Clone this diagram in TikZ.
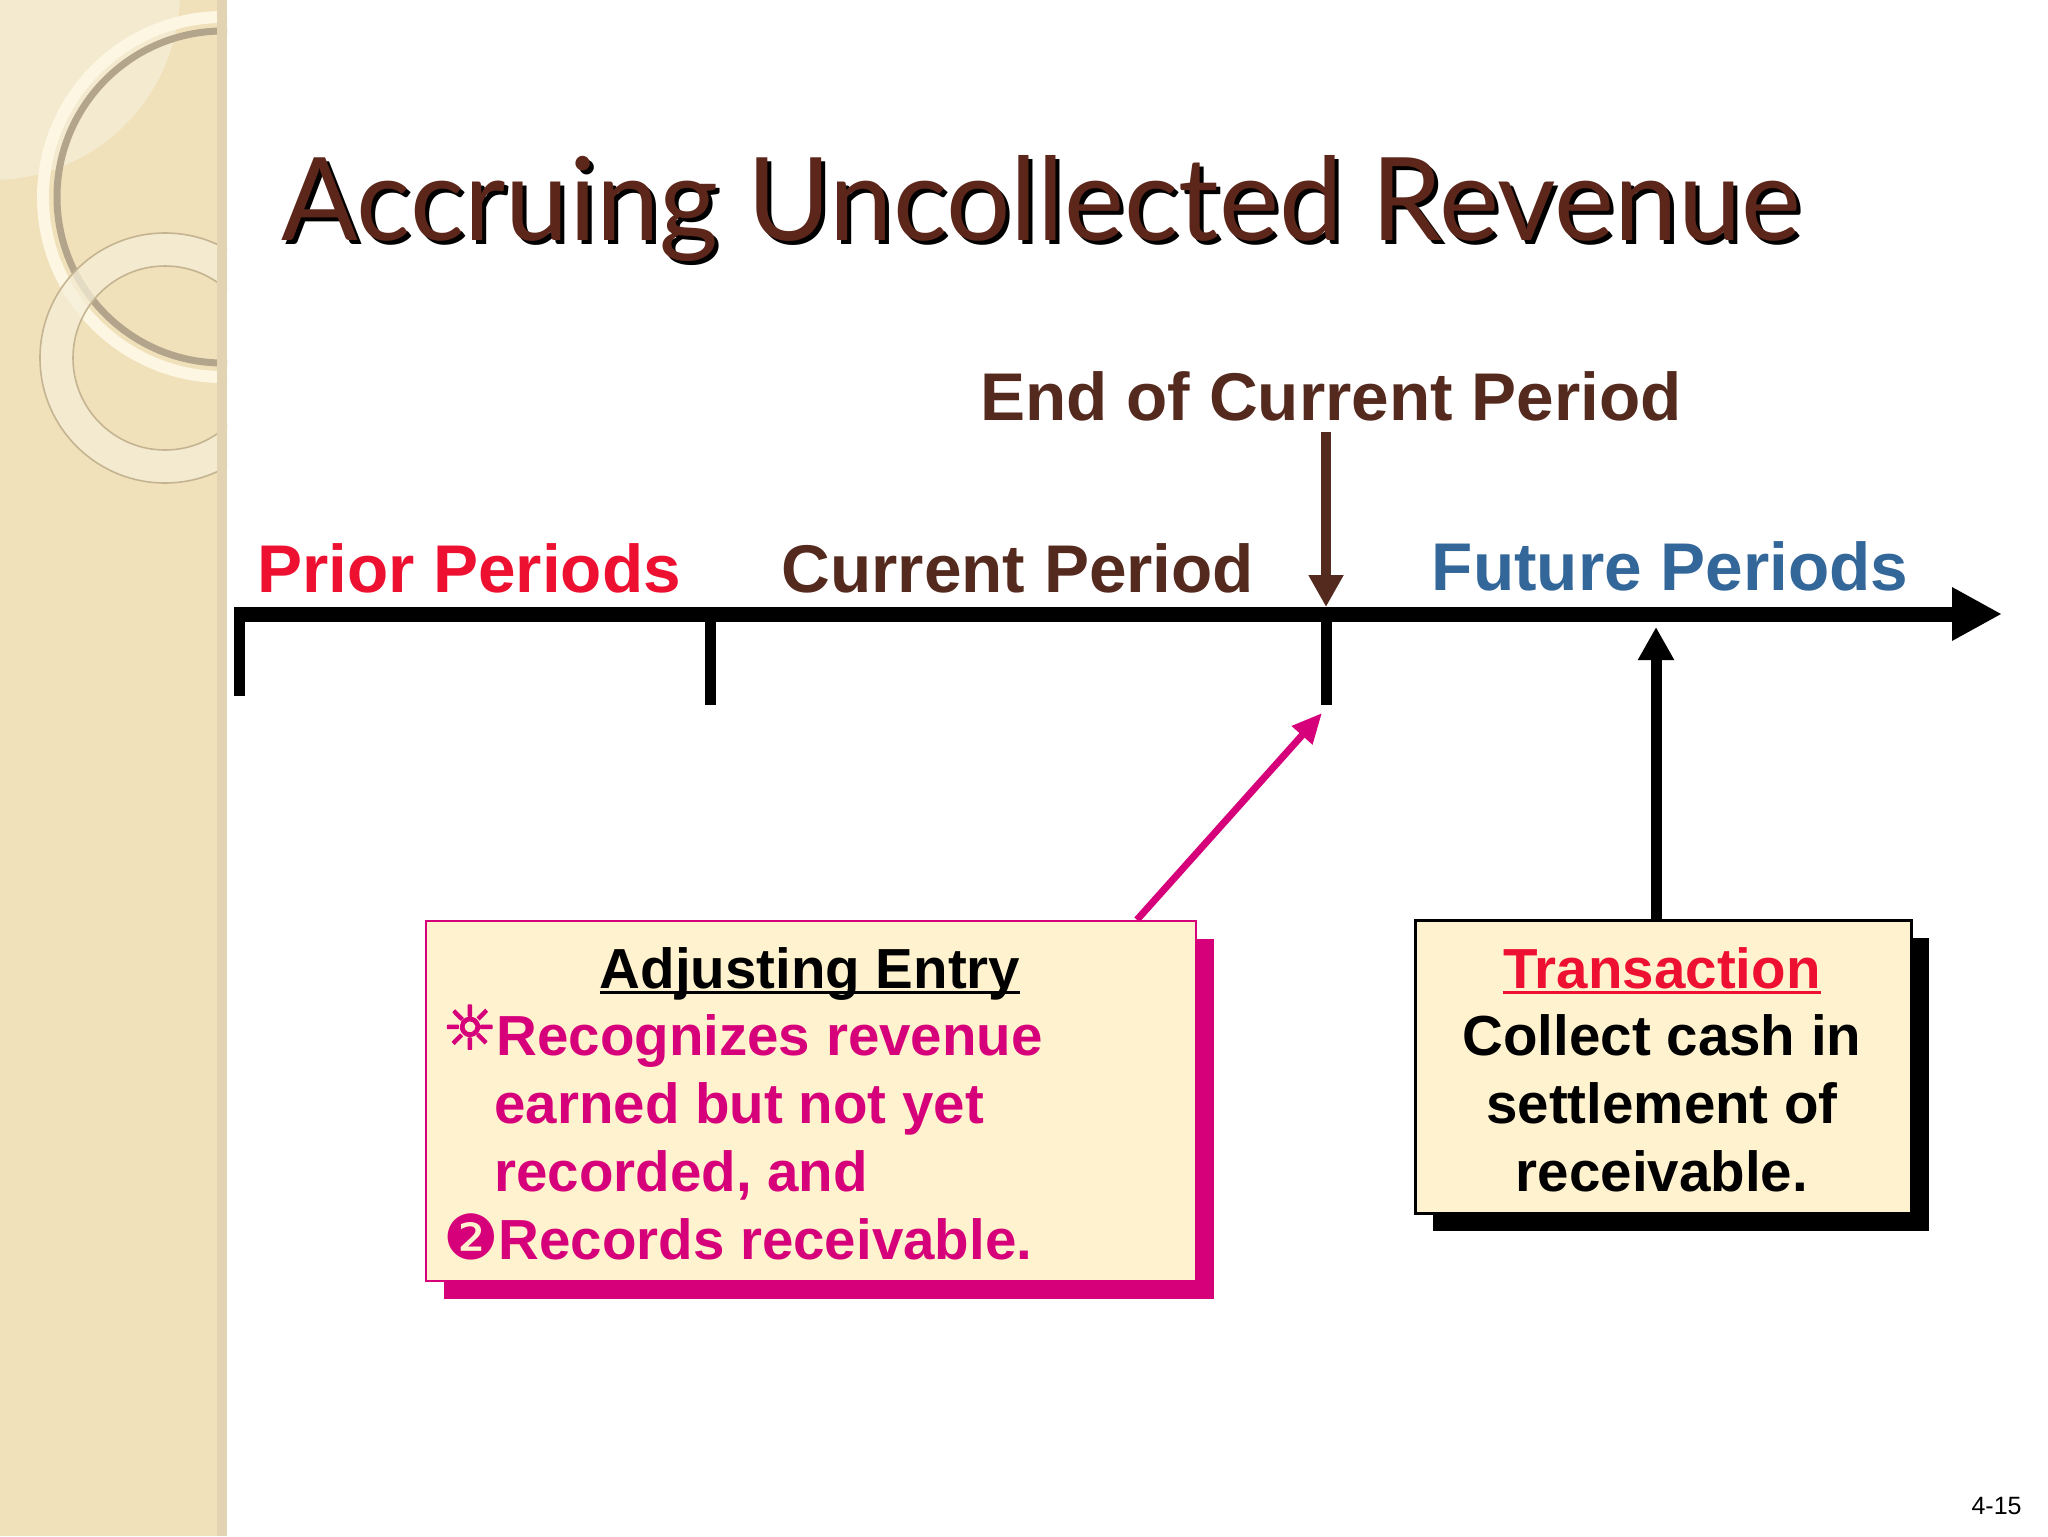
\documentclass[tikz,border=0pt]{standalone}
\usepackage{fontspec}
\setmainfont{Liberation Sans}
\newfontfamily\titlefont{Lato}
\newfontfamily\symfont{DejaVu Sans}
\newfontfamily\symboldfont[FakeBold=3]{DejaVu Sans}
\usetikzlibrary{arrows.meta,shadows,calc}
\definecolor{panel}{RGB}{240,225,186}
\definecolor{panellight}{RGB}{244,234,208}
\definecolor{panelstrip}{RGB}{226,212,178}
\definecolor{ringcream}{RGB}{252,246,226}
\definecolor{ringgray}{RGB}{178,165,140}
\definecolor{ringfill}{RGB}{246,238,216}
\definecolor{ringedge}{RGB}{196,180,145}
\definecolor{titlebrown}{RGB}{92,38,26}
\definecolor{lblbrown}{RGB}{84,42,30}
\definecolor{lblred}{RGB}{238,16,48}
\definecolor{lblblue}{RGB}{51,102,153}
\definecolor{mag}{RGB}{214,0,122}
\definecolor{cream}{RGB}{255,242,206}
\newcommand\ulin[1]{\setbox0\hbox{#1}\rlap{\rule[-0.11em]{\wd0}{0.055em}}\box0}
\begin{document}
\begin{tikzpicture}[x=0.5pt,y=-0.5pt,
  lbl/.style={font=\fontsize{33.75pt}{40pt}\selectfont\bfseries, inner sep=0pt, anchor=base},
  btxt/.style={font=\fontsize{28.25pt}{34pt}\selectfont\bfseries, inner sep=0pt},
  tick/.style={line width=5.5pt},
  magbox/.style={draw=mag, line width=1.2pt, fill=cream, rectangle, inner sep=0pt,
     minimum width=385pt, minimum height=180pt,
     drop shadow={shadow xshift=9pt, shadow yshift=-9pt, fill=mag, opacity=1}},
  blkbox/.style={draw=black, line width=1.5pt, fill=cream, rectangle, inner sep=0pt,
     minimum width=248pt, minimum height=146.5pt,
     drop shadow={shadow xshift=9pt, shadow yshift=-9pt, fill=black, opacity=1}}]
\useasboundingbox (0,0) rectangle (2048,1536);
\fill[white] (0,0) rectangle (2048,1536);
% left decorative panel
\begin{scope}
\clip (0,0) rectangle (227,1536);
\fill[panel] (0,0) rectangle (227,1536);
\fill[panellight] (-8,-8) circle (94pt);
\draw[ringcream, line width=6pt] (223,197) circle (90pt);
\draw[ringgray, line width=3.5pt] (223,197) circle (83pt);
\fill[ringfill, opacity=0.75, even odd rule] (165,358) circle (62.5pt) (165,358) circle (46pt);
\draw[ringedge, line width=0.8pt] (165,358) circle (62.5pt) (165,358) circle (46pt);
\fill[panelstrip] (217,0) rectangle (227,1536);
\end{scope}
% title
\node[anchor=base west, inner sep=0pt] (titleshadow) at (285,244) {\resizebox{759.5pt}{42.5pt}{\titlefont\color{black}Accruing Uncollected Revenue}};
\node[anchor=base west, inner sep=0pt] (title) at (281,240) {\resizebox{759.5pt}{42.5pt}{\titlefont\color{titlebrown}Accruing Uncollected Revenue}};
% labels
\node[lbl, text=lblbrown] (eocp) at (1331,420) {End of Current Period};
\node[lbl, text=lblred] (prior) at (469,592) {Prior Periods};
\node[lbl, text=lblbrown] (curr) at (1018,592) {Current Period};
\node[lbl, text=lblblue] (future) at (1670,590) {Future Periods};
% timeline
\coordinate (tl0) at (234,614);
\coordinate (tlend) at (2002,614);
\coordinate (t1a) at (239.5,608); \coordinate (t1b) at (239.5,696);
\coordinate (t2a) at (710,608); \coordinate (t2b) at (710,705);
\coordinate (t3a) at (1326,608); \coordinate (t3b) at (1326,705);
\draw[line width=7.5pt, -{Triangle[length=25pt,width=25pt]}] (tl0) -- (tlend);
\draw[tick] (t1a) -- (t1b);
\draw[tick] (t2a) -- (t2b);
\draw[tick] (t3a) -- (t3b);
% end of current period arrow
\coordinate (eostart) at (1326,432);
\coordinate (eotip) at (1326,607);
\draw[lblbrown, line width=5pt, -{Triangle[length=16pt,width=16.5pt]}] (eostart) -- (eotip);
% boxes
\node[magbox] (adjbox) at (811,1101) {};
\node[blkbox] (trbox) at (1663,1066.5) {};
% left box text
\node[btxt, anchor=base, text=black] (adjt) at (810,988) {\ulin{Adjusting Entry}};
\node[btxt, anchor=base west, text=mag] (l1) at (496,1055) {Recognizes revenue};
\node[btxt, anchor=base west, text=mag] (l2) at (494,1123) {earned but not yet};
\node[btxt, anchor=base west, text=mag] (l3) at (494,1191) {recorded, and};
\node[btxt, anchor=base west, text=mag] (l4) at (498,1259) {Records receivable.};
\node[anchor=base east, inner sep=0pt, text=mag, font=\fontsize{30pt}{30pt}\symboldfont] (b1) at (497,1049) {☼};
\node[anchor=base east, inner sep=0pt, text=mag, font=\fontsize{31pt}{31pt}\symfont] (b2) at (499,1259) {❷};
% right box text
\node[btxt, anchor=base, text=lblred] (trt) at (1662,988) {\ulin{Transaction}};
\node[btxt, anchor=base, text=black] (r1) at (1662,1055) {Collect cash in};
\node[btxt, anchor=base, text=black] (r2) at (1662,1123) {settlement of};
\node[btxt, anchor=base, text=black] (r3) at (1662,1191) {receivable.};
% connectors
\coordinate (uptip) at (1656,627);
\draw[line width=5.5pt, -{Triangle[length=16.5pt,width=17pt]}] (trbox.north -| uptip) -- (uptip);
\coordinate (magstart) at ($(adjbox.north west)!0.922!(adjbox.north east)$);
\coordinate (magtip) at (1322,713);
\draw[mag, line width=3.5pt, -{Triangle[length=15pt,width=13pt]}] (magstart) -- (magtip);
% page number
\node[anchor=base east, inner sep=0pt, font=\fontsize{12.5pt}{14pt}\selectfont] (pg) at (2022,1514) {4-15};
\end{tikzpicture}
\end{document}
